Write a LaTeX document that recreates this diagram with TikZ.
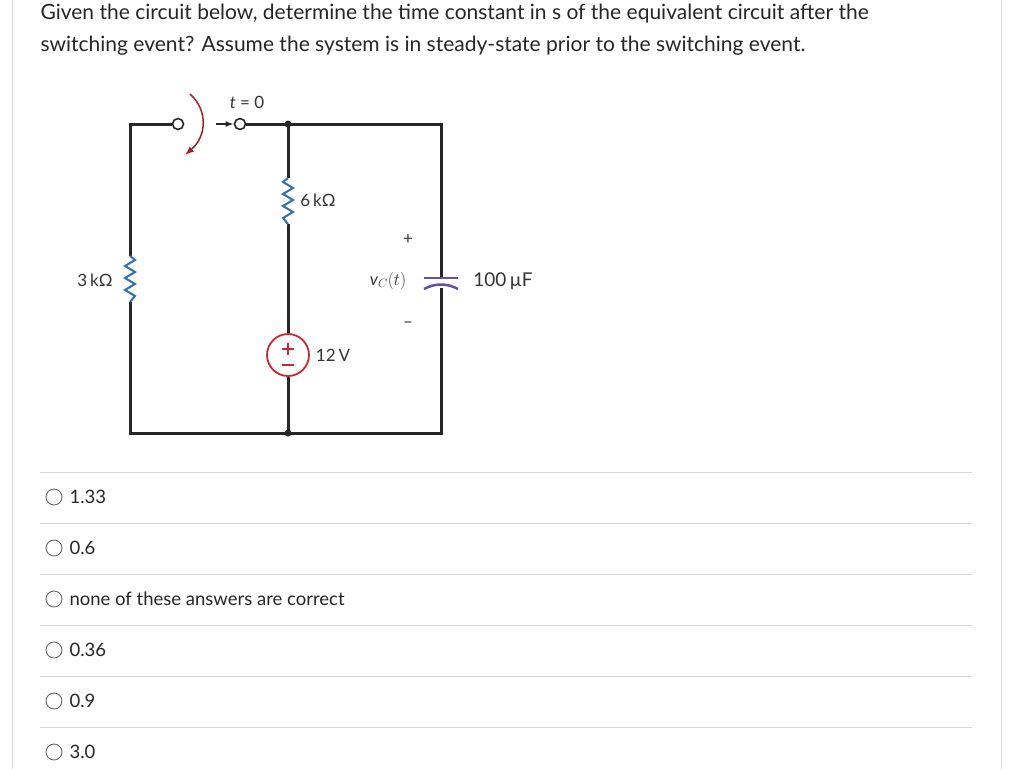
\documentclass[tikz,border=0pt]{standalone}
\usepackage{fontspec}
\setmainfont{Lato}
\usetikzlibrary{arrows.meta}
\definecolor{rescol}{RGB}{50,110,180}
\definecolor{src}{RGB}{200,40,50}
\definecolor{capcol}{RGB}{100,80,170}
\definecolor{sep}{RGB}{215,215,215}
\begin{document}
\begin{tikzpicture}[x=1pt,y=-1pt,
 wire/.style={line width=3pt,black!85},
 resz/.style={rescol,line width=2pt},
 term/.style={circle,draw=black!85,fill=white,line width=1.6pt,inner sep=0,minimum size=11pt},
 dotn/.style={circle,fill=black!85,inner sep=0,minimum size=7pt},
 radio/.style={circle,draw=black!60,line width=0.9pt,inner sep=0,minimum size=16pt},
 opt/.style={anchor=west,font=\fontsize{18.5}{22}\selectfont,text=black!85},
 lab/.style={font=\fontsize{17}{20}\selectfont,text=black!80}]
\useasboundingbox (0,0) rectangle (1024,769);
\draw[sep,line width=1pt] (12,0)--(12,769) (1001,0)--(1001,769);
\node[anchor=west,font=\fontsize{21}{25}\selectfont,text=black!85] (q1) at (37,14) {Given the circuit below, determine the time constant in s of the equivalent circuit after the};
\node[anchor=west,font=\fontsize{21}{25}\selectfont,text=black!85] (q2) at (37,46) {switching event? Assume the system is in steady-state prior to the switching event.};
\coordinate (tl) at (130,124); \coordinate (bl) at (130,433);
\coordinate (tr) at (441,124); \coordinate (br) at (441,433);
\node[dotn] (tm) at (288,124) {}; \node[dotn] (bm) at (288,433) {};
\node[term] (s1) at (178,124) {}; \node[term] (s2) at (240,124) {};
\node[circle,draw=src,line width=1.8pt,minimum size=42pt,inner sep=0] (v) at (288,355) {};
\draw[src,line width=1.4pt] (282,349)--(294,349) (288,343)--(288,355) (282,365)--(294,365);
\draw[wire] (s1.west)--(tl)--(130,256);
\draw[wire] (130,302)--(bl)--(bm.center)--(br)--(441,288);
\draw[wire] (441,278)--(tr)--(tm.center)--(s2.east);
\draw[wire] (tm.center)--(288,178);
\draw[wire] (288,224)--(v.north);
\draw[wire] (v.south)--(bm.center);
\draw[resz] (288,178)--(283,182)--(293,188)--(283,194)--(293,200)--(283,206)--(293,212)--(283,218)--(288,224);
\draw[resz] (130,256)--(135,260)--(125,266)--(135,272)--(125,278)--(135,284)--(125,290)--(135,296)--(130,302);
\draw[black!85,line width=1.5pt,-{Latex[length=8pt]}] (216,124)--(s2.west);
\draw[src!80!black,line width=1.5pt,-{Latex[length=9pt]}] (190,94) .. controls (208,110) and (207,136) .. (185,155);
\node[lab] (t0) at (247,102) {\textit{t} = 0};
\draw[capcol,line width=2.5pt] (424,278)--(458,278);
\draw[capcol,line width=2.5pt] (424,289) .. controls (435,283) and (447,283) .. (458,289);
\node[lab] (l6) at (318,200) {6\,kΩ};
\node[lab] (l3) at (95,280) {3\,kΩ};
\node[lab] (l12) at (333,355) {12\,V};
\node[lab] (lp) at (408,240) {+};
\node[lab] (lm) at (408,325) {–};
\node[lab] (lvc) at (388,281) {$\mathit{v}_C(t)$};
\node[lab,font=\fontsize{19}{22}\selectfont] (lc) at (503,281) {100\,µF};
\foreach \y in {472,523,574,625,676,727} \draw[sep,line width=1pt] (40,\y)--(972,\y);
\foreach \y/\t [count=\i] in {497/1.33,548/0.6,599/none of these answers are correct,650/0.36,701/0.9,752/3.0}{
 \node[radio] (r\i) at (54,\y) {};
 \node[opt] (o\i) at (66,\y) {\t};
}
\end{tikzpicture}
\end{document}
